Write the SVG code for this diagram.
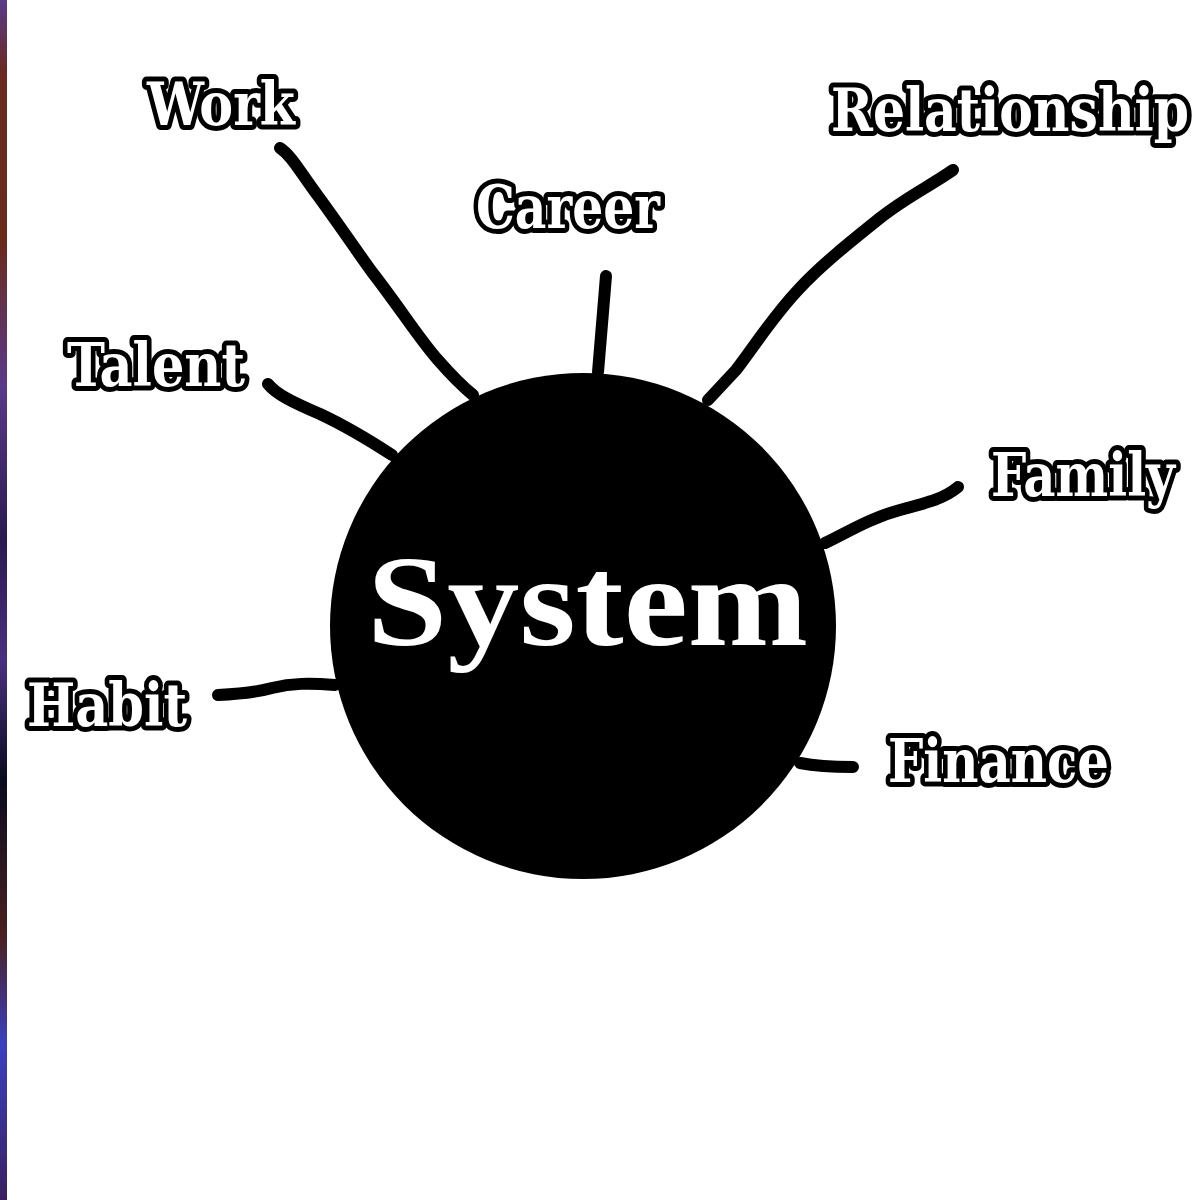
<svg xmlns="http://www.w3.org/2000/svg" width="1200" height="1200" viewBox="0 0 1200 1200">
<defs>
<linearGradient id="strip" x1="0" y1="0" x2="0" y2="1">
<stop offset="0" stop-color="#5a3a8a"/>
<stop offset="0.06" stop-color="#6a2a20"/>
<stop offset="0.2" stop-color="#6a2a1a"/>
<stop offset="0.32" stop-color="#5a3a8a"/>
<stop offset="0.45" stop-color="#2a1a50"/>
<stop offset="0.55" stop-color="#4a3080"/>
<stop offset="0.65" stop-color="#0a0a20"/>
<stop offset="0.78" stop-color="#4a2020"/>
<stop offset="0.87" stop-color="#3a40c0"/>
<stop offset="1" stop-color="#3a2060"/>
</linearGradient>
<style>
.lbl{font-family:"DejaVu Serif Condensed","DejaVu Serif","Liberation Serif",serif;font-stretch:condensed;font-weight:bold;font-size:54px;fill:#fff;stroke:#000;stroke-width:9;stroke-linejoin:round;paint-order:stroke}
.con{fill:none;stroke:#000;stroke-width:12;stroke-linecap:round;stroke-linejoin:round}
</style>
</defs>
<rect width="1200" height="1200" fill="#fff"/>
<rect x="0" y="0" width="7" height="1200" fill="url(#strip)"/>
<g id="connectors">
<path class="con" d="M280,148 C292,156 300,172 318,196 C340,226 356,250 372,272 C400,308 420,340 438,360 C452,376 462,386 473,395"/>
<path class="con" d="M606,276 L598,372"/>
<path class="con" d="M953,170 C930,186 905,198 880,218 C850,242 820,266 798,290 C770,320 752,350 736,370 L708,400"/>
<path class="con" d="M268,384 C276,394 292,402 320,414 C350,428 372,442 392,455"/>
<path class="con" d="M958,487 C945,498 930,502 900,510 C870,518 848,532 825,543"/>
<path class="con" d="M218,695 C240,694 258,692 272,688 C292,683 310,683 335,685"/>
<path class="con" d="M800,763 C815,766 835,767 853,767"/>
</g>
<g id="system">
<circle cx="583" cy="626" r="253" fill="#000"/>
<text x="367" y="645" textLength="441" lengthAdjust="spacingAndGlyphs" font-family="Liberation Serif, serif" font-weight="bold" font-size="130" fill="#fff">System</text>
</g>
<g id="work"><text class="lbl" transform="translate(147,125) scale(1,1.12)" textLength="148" lengthAdjust="spacingAndGlyphs">Work</text></g>
<g id="career"><text class="lbl" transform="translate(476,228) scale(1,1.12)" textLength="184" lengthAdjust="spacingAndGlyphs">Career</text></g>
<g id="relationship"><text class="lbl" transform="translate(831,131) scale(1,1.12)" textLength="358" lengthAdjust="spacingAndGlyphs">Relationship</text></g>
<g id="talent"><text class="lbl" transform="translate(67,386) scale(1,1.12)" textLength="178" lengthAdjust="spacingAndGlyphs">Talent</text></g>
<g id="family"><text class="lbl" transform="translate(991,496) scale(1,1.12)" textLength="184" lengthAdjust="spacingAndGlyphs">Family</text></g>
<g id="habit"><text class="lbl" transform="translate(27,726) scale(1,1.12)" textLength="160" lengthAdjust="spacingAndGlyphs">Habit</text></g>
<g id="finance"><text class="lbl" transform="translate(888,782) scale(1,1.12)" textLength="221" lengthAdjust="spacingAndGlyphs">Finance</text></g>
</svg>
